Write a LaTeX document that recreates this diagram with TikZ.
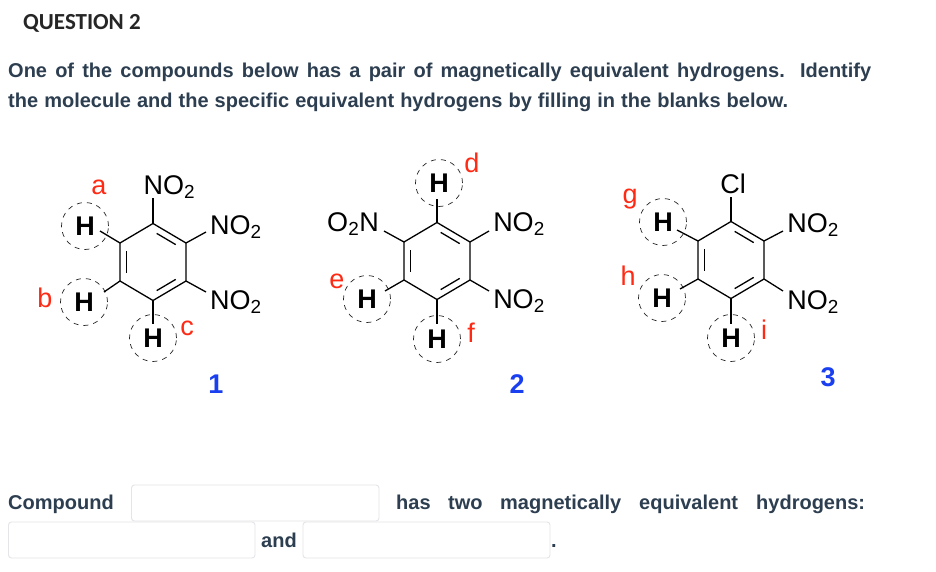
\documentclass[tikz,border=0pt]{standalone}
\usepackage{fontspec}
\setmainfont{Liberation Sans}
\newfontfamily\qfont{Carlito}
\definecolor{body}{HTML}{2C3E50}
\definecolor{redl}{HTML}{FF2A14}
\definecolor{bluen}{HTML}{1A3FF0}
\definecolor{boxl}{HTML}{E3E5E8}
\tikzset{
  line/.style={text=body,font=\bfseries\fontsize{20}{24}\selectfont,anchor=base west,inner sep=0pt},
  chem/.style={font=\fontsize{27}{30}\selectfont,inner sep=1pt,text=black},
  hatom/.style={circle,draw=black!85,dash pattern=on 5pt off 5pt,line width=.7pt,minimum size=47pt,inner sep=0pt,font=\bfseries\fontsize{27}{30}\selectfont},
  tag/.style={text=redl,font=\fontsize{27}{30}\selectfont,inner sep=0pt},
  num/.style={text=bluen,font=\bfseries\fontsize{27}{30}\selectfont,inner sep=0pt},
  blank/.style={draw=boxl,rounded corners=3pt,line width=.9pt,inner sep=0pt,fill=white},
  bond/.style={line width=1.3pt,black}
}
\newcommand{\ring}[3]{%
  \coordinate (#1t) at (#2,#3-38.5);
  \coordinate (#1ur) at (#2+33,#3-19);
  \coordinate (#1lr) at (#2+33,#3+19);
  \coordinate (#1b) at (#2,#3+38.5);
  \coordinate (#1ll) at (#2-33,#3+19);
  \coordinate (#1ul) at (#2-33,#3-19);
  \coordinate (#1c) at (#2,#3);
  \draw[bond,line join=round] (#1t)--(#1ur)--(#1lr)--(#1b)--(#1ll)--(#1ul)--cycle;
  \draw[bond] ($(#1t)!.14!(#1ur)!.2!(#1c)$)--($(#1ur)!.14!(#1t)!.2!(#1c)$);
  \draw[bond] ($(#1b)!.14!(#1lr)!.2!(#1c)$)--($(#1lr)!.14!(#1b)!.2!(#1c)$);
  \draw[bond] ($(#1ul)!.14!(#1ll)!.2!(#1c)$)--($(#1ll)!.14!(#1ul)!.2!(#1c)$);
}
\usetikzlibrary{calc}
\begin{document}
\begin{tikzpicture}[x=1pt,y=-1pt]
\useasboundingbox (0,0) rectangle (936,572);
\fill[white] (0,0) rectangle (936,572);
\node[anchor=base west,inner sep=0pt,font=\qfont\bfseries\fontsize{23}{26}\selectfont,text=black!85] (qt) at (23,30) {QUESTION 2};
\node[line] (l1) at (8,78) {\hbox to 863pt{One of the compounds below has a pair of magnetically equivalent hydrogens. Identify}};
\node[line] (l2) at (8,108) {\hbox to 780pt{the molecule and the specific equivalent hydrogens by filling in the blanks below.}};

% molecule 1
\ring{a}{153}{262}
\node[chem] (a1) at (169.5,187) {NO\textsubscript{2}};
\node[chem] (a2) at (236,227) {NO\textsubscript{2}};
\node[chem] (a3) at (236,302) {NO\textsubscript{2}};
\node[hatom] (ha) at (85,226) {H};
\node[hatom] (hb) at (84,302) {H};
\node[hatom] (hc) at (153,338) {H};
\draw[bond] (at)--(153,198);
\draw[bond] (aur)--(206,232);
\draw[bond] (alr)--(206,292);
\draw[bond] (aul)--(100,231);
\draw[bond] (all)--(104,292);
\draw[bond] (ab)--(153,324);
\node[tag] (ta) at (99,187) {a};
\node[tag] (tb) at (45,298) {b};
\node[tag] (tc) at (187,328) {c};
\node[num] (n1) at (216,384) {1};

% molecule 2
\ring{b}{437}{261}
\node[chem] (b1) at (353,224) {O\textsubscript{2}N};
\node[chem] (b2) at (519,224) {NO\textsubscript{2}};
\node[chem] (b3) at (519,301) {NO\textsubscript{2}};
\node[hatom] (hd) at (439,183) {H};
\node[hatom] (he) at (367,299) {H};
\node[hatom] (hf) at (437,339) {H};
\draw[bond] (bt)--(437,199);
\draw[bond] (bul)--(384,231);
\draw[bond] (bur)--(489,231);
\draw[bond] (blr)--(489,291);
\draw[bond] (bll)--(385,291);
\draw[bond] (bb)--(437,324);
\node[tag] (td) at (472,163) {d};
\node[tag] (te) at (337,281) {e};
\node[tag] (tf) at (471,333) {f};
\node[num] (n2) at (517,384) {2};

% molecule 3
\ring{c}{731}{260}
\node[chem] (c1) at (733,184) {Cl};
\node[chem] (c2) at (813,225) {NO\textsubscript{2}};
\node[chem] (c3) at (813,302) {NO\textsubscript{2}};
\node[hatom] (hg) at (663,222) {H};
\node[hatom] (hh) at (662,298) {H};
\node[hatom] (hi) at (731,338) {H};
\draw[bond] (ct)--(731,197);
\draw[bond] (cur)--(783,231);
\draw[bond] (clr)--(783,291);
\draw[bond] (cul)--(677,230);
\draw[bond] (cll)--(680,289);
\draw[bond] (cb)--(731,324);
\node[tag] (tg) at (630,199) {g};
\node[tag] (th) at (628,276) {h};
\node[tag] (ti) at (764,330) {i};
\node[num] (n3) at (828,377) {3};

% bottom
\node[line] (cp) at (8,509) {Compound};
\draw[blank] (131.5,485) rectangle (379,521);
\node[line] (h1) at (396,509) {has};
\node[line] (h2) at (448,509) {two};
\node[line] (h3) at (500,509) {magnetically};
\node[line] (h4) at (639,509) {equivalent};
\node[line] (h5) at (756,509) {hydrogens:};
\draw[blank] (8.5,522) rectangle (255,558);
\node[line] (an) at (261,547) {and};
\draw[blank] (303,522) rectangle (550,558);
\node[line] (dt) at (551,547) {.};
\end{tikzpicture}
\end{document}
